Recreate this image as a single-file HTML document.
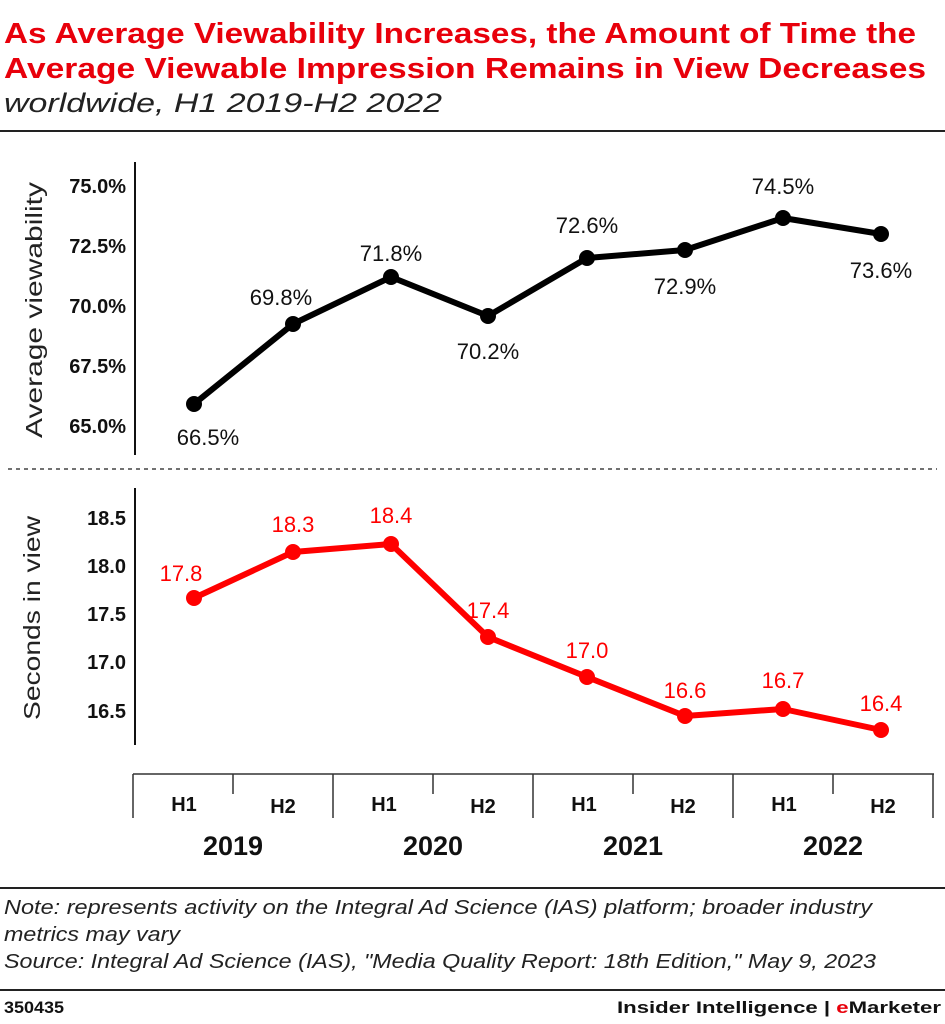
<!DOCTYPE html>
<html><head><meta charset="utf-8"><style>
body{margin:0;background:#fff;}
svg{display:block;font-family:"Liberation Sans",sans-serif;}
</style></head><body>
<svg width="945" height="1024" viewBox="0 0 945 1024">
<text x="4" y="43" font-size="29" font-weight="bold" fill="#e8000b" textLength="912" lengthAdjust="spacingAndGlyphs">As Average Viewability Increases, the Amount of Time the</text>
<text x="4" y="78" font-size="29" font-weight="bold" fill="#e8000b" textLength="922" lengthAdjust="spacingAndGlyphs">Average Viewable Impression Remains in View Decreases</text>
<text x="4" y="112" font-size="27" font-style="italic" fill="#222" textLength="438" lengthAdjust="spacingAndGlyphs">worldwide, H1 2019-H2 2022</text>
<line x1="0" y1="131" x2="945" y2="131" stroke="#222" stroke-width="2"/>
<line x1="135" y1="162" x2="135" y2="455" stroke="#111" stroke-width="2"/>
<text x="42" y="310" font-size="23" fill="#222" text-anchor="middle" transform="rotate(-90 42 310)" textLength="256" lengthAdjust="spacingAndGlyphs">Average viewability</text>
<g font-size="20" font-weight="bold" fill="#111" text-anchor="end">
<text x="126" y="193">75.0%</text><text x="126" y="253">72.5%</text><text x="126" y="313">70.0%</text><text x="126" y="373">67.5%</text><text x="126" y="433">65.0%</text>
</g>
<polyline points="194,404 293,324 391,277 488,316 587,258 685,250 783,218 881,234" fill="none" stroke="#000" stroke-width="6" stroke-linejoin="round"/>
<g fill="#000"><circle cx="194" cy="404" r="8"/><circle cx="293" cy="324" r="8"/><circle cx="391" cy="277" r="8"/><circle cx="488" cy="316" r="8"/><circle cx="587" cy="258" r="8"/><circle cx="685" cy="250" r="8"/><circle cx="783" cy="218" r="8"/><circle cx="881" cy="234" r="8"/></g>
<g font-size="22" fill="#111" text-anchor="middle">
<text x="208" y="445">66.5%</text><text x="281" y="305">69.8%</text><text x="391" y="261">71.8%</text><text x="488" y="359">70.2%</text><text x="587" y="233">72.6%</text><text x="685" y="294">72.9%</text><text x="783" y="194">74.5%</text><text x="881" y="278">73.6%</text>
</g>
<line x1="8" y1="469" x2="937" y2="469" stroke="#444" stroke-width="1.5" stroke-dasharray="4,4"/>
<line x1="135" y1="488" x2="135" y2="745" stroke="#111" stroke-width="2"/>
<text x="40" y="618" font-size="23" fill="#222" text-anchor="middle" transform="rotate(-90 40 618)" textLength="204" lengthAdjust="spacingAndGlyphs">Seconds in view</text>
<g font-size="20" font-weight="bold" fill="#111" text-anchor="end">
<text x="126" y="525">18.5</text><text x="126" y="573">18.0</text><text x="126" y="621">17.5</text><text x="126" y="669">17.0</text><text x="126" y="718">16.5</text>
</g>
<polyline points="194,598 293,552 391,544 488,637 587,677 685,716 783,709 881,730" fill="none" stroke="#ff0000" stroke-width="6" stroke-linejoin="round"/>
<g fill="#ff0000"><circle cx="194" cy="598" r="8"/><circle cx="293" cy="552" r="8"/><circle cx="391" cy="544" r="8"/><circle cx="488" cy="637" r="8"/><circle cx="587" cy="677" r="8"/><circle cx="685" cy="716" r="8"/><circle cx="783" cy="709" r="8"/><circle cx="881" cy="730" r="8"/></g>
<g font-size="22" fill="#ff0000" text-anchor="middle">
<text x="181" y="581">17.8</text><text x="293" y="532">18.3</text><text x="391" y="523">18.4</text><text x="488" y="618">17.4</text><text x="587" y="658">17.0</text><text x="685" y="698">16.6</text><text x="783" y="688">16.7</text><text x="881" y="711">16.4</text>
</g>
<g stroke="#333" stroke-width="1.5">
<line x1="133" y1="774" x2="934" y2="774"/>
<line x1="133" y1="774" x2="133" y2="818"/><line x1="333" y1="774" x2="333" y2="818"/><line x1="533" y1="774" x2="533" y2="818"/><line x1="733" y1="774" x2="733" y2="818"/><line x1="933" y1="774" x2="933" y2="818"/>
<line x1="233" y1="774" x2="233" y2="794"/><line x1="433" y1="774" x2="433" y2="794"/><line x1="633" y1="774" x2="633" y2="794"/><line x1="833" y1="774" x2="833" y2="794"/>
</g>
<g font-size="20" font-weight="bold" fill="#111" text-anchor="middle">
<text x="184" y="811">H1</text><text x="283" y="813">H2</text><text x="384" y="811">H1</text><text x="483" y="813">H2</text><text x="584" y="811">H1</text><text x="683" y="813">H2</text><text x="784" y="811">H1</text><text x="883" y="813">H2</text>
</g>
<g font-size="27" font-weight="bold" fill="#111" text-anchor="middle">
<text x="233" y="855">2019</text><text x="433" y="855">2020</text><text x="633" y="855">2021</text><text x="833" y="855">2022</text>
</g>
<line x1="0" y1="888" x2="945" y2="888" stroke="#222" stroke-width="2"/>
<g font-size="20" font-style="italic" fill="#222">
<text x="4" y="914" textLength="868" lengthAdjust="spacingAndGlyphs">Note: represents activity on the Integral Ad Science (IAS) platform; broader industry</text>
<text x="4" y="941" textLength="176" lengthAdjust="spacingAndGlyphs">metrics may vary</text>
<text x="4" y="968" textLength="872" lengthAdjust="spacingAndGlyphs">Source: Integral Ad Science (IAS), "Media Quality Report: 18th Edition," May 9, 2023</text>
</g>
<line x1="0" y1="990" x2="945" y2="990" stroke="#222" stroke-width="2"/>
<text x="4" y="1013" font-size="17" font-weight="bold" fill="#111" textLength="60" lengthAdjust="spacingAndGlyphs">350435</text>
<text x="617" y="1013" font-size="17" font-weight="bold" fill="#111" textLength="324" lengthAdjust="spacingAndGlyphs">Insider Intelligence | <tspan fill="#e8000b">e</tspan>Marketer</text>
</svg>
</body></html>
